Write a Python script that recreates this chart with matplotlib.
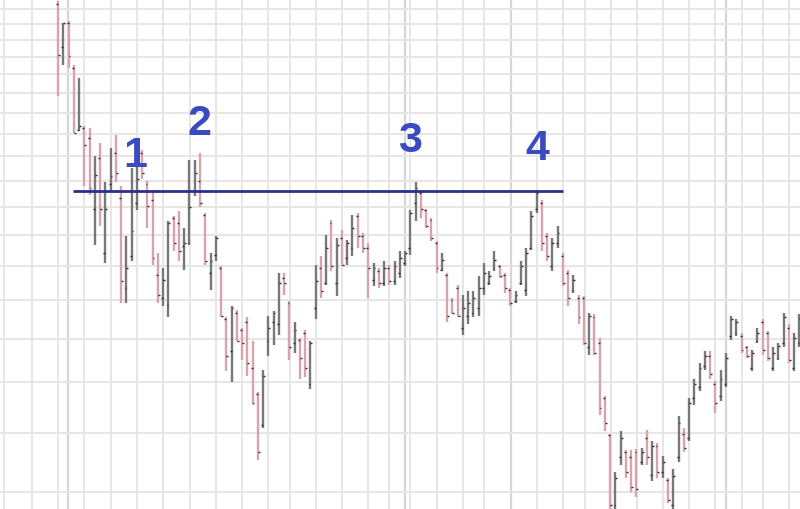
import matplotlib
matplotlib.use("Agg")
import matplotlib.pyplot as plt
from matplotlib.ticker import NullLocator

# ---- data (price, log scale) ----
highs = [22.55,21.06,21.19,18.53,17.79,15.38,15.29,14.00,14.59,12.96,14.36,14.95,12.77,10.97,13.50,13.62,14.27,13.00,12.62,10.42,
         9.94,11.48,11.66,11.83,11.24,13.83,13.83,14.14,11.76,10.42,10.97,10.00,8.54,8.85,8.74,8.28,8.54,7.95,6.80,7.26,
         8.59,8.72,9.79,9.79,8.97,8.41,8.03,8.23,7.95,10.03,10.32,11.00,11.52,10.90,11.17,10.84,11.69,11.76,11.07,10.74,
         10.10,9.94,10.16,10.03,10.16,10.48,10.48,11.86,12.96,12.58,11.93,11.59,10.81,10.42,9.79,9.06,9.44,9.15,9.26,9.26,
         9.71,10.10,9.85,10.48,10.03,9.79,9.35,9.26,10.16,10.58,11.83,12.58,12.23,11.07,10.90,11.31,10.42,9.88,9.74,9.15,
         9.12,8.67,8.62,8.03,6.71,5.98,5.31,6.02,5.68,5.68,5.70,5.73,6.04,5.85,5.81,5.59,5.22,5.36,6.31,6.08,
         6.67,7.07,7.43,7.71,7.71,7.02,7.26,7.67,8.59,8.49,8.15,7.83,7.74,8.28,8.49,8.20,7.79,7.90,8.67,8.36,
         8.15,8.62]
lows = [16.85,18.53,18.35,15.05,15.14,12.77,12.42,10.68,11.31,10.10,12.58,12.96,8.92,8.92,10.16,11.86,13.08,11.24,10.03,8.92,
        8.85,8.54,10.48,10.16,9.88,10.68,12.38,12.00,10.03,9.29,10.16,8.54,7.24,7.00,7.95,7.50,7.14,6.53,5.51,6.08,
        7.60,7.86,8.10,9.15,7.50,7.67,7.07,7.12,6.86,8.49,9.06,9.44,9.85,9.12,10.00,10.03,10.32,10.58,10.42,9.06,
        9.41,9.35,9.41,9.44,9.44,9.65,10.00,10.35,11.48,11.59,11.24,10.81,9.79,9.85,8.41,8.62,8.54,8.10,8.36,8.54,
        8.59,9.15,9.44,9.85,9.65,9.21,8.85,8.92,9.44,9.12,10.52,11.76,10.48,10.16,9.85,10.58,9.41,8.85,9.21,8.36,
        7.86,7.62,7.62,6.33,6.02,4.68,4.68,5.44,5.22,5.00,4.93,5.44,5.44,5.17,5.22,5.22,4.83,4.68,5.48,5.65,
        5.85,6.53,6.82,7.26,7.07,6.37,6.61,6.90,7.98,8.08,7.67,7.55,7.24,7.90,7.62,7.48,7.24,7.50,7.79,7.43,
        7.24,7.79]
opens = [22.34,19.56,21.06,18.35,15.19,15.29,14.82,11.93,13.92,10.42,12.88,14.14,12.31,9.35,10.32,12.12,14.14,12.88,12.23,9.74,
         9.06,8.87,11.59,11.41,10.64,10.74,12.58,13.00,11.69,9.79,10.35,9.94,8.49,7.71,8.67,8.23,8.41,7.31,6.76,6.14,
         7.95,8.41,8.36,9.65,8.92,7.90,7.98,8.15,6.96,8.80,9.94,9.50,11.41,9.50,10.90,10.26,10.58,11.66,10.97,10.58,
         9.59,9.85,9.50,9.94,9.56,9.79,10.10,10.58,12.12,12.50,11.86,11.52,10.74,9.88,9.74,9.00,9.35,8.28,8.59,8.67,
         8.80,9.35,9.50,9.94,10.00,9.74,9.29,8.97,9.50,9.29,10.58,11.93,12.12,10.97,10.00,10.74,10.32,9.79,9.29,9.06,
         9.06,7.79,8.54,7.90,6.67,5.95,4.80,5.56,5.65,5.56,5.65,5.48,5.90,5.26,5.76,5.31,5.19,4.80,5.56,5.98,
         5.90,6.67,6.90,7.36,7.60,6.96,6.71,6.96,8.08,8.15,8.08,7.79,7.31,7.95,8.41,8.15,7.31,7.55,7.90,8.28,
         7.31,7.90]
closes = [19.13,21.06,19.06,15.05,15.38,14.50,12.69,13.21,11.93,11.93,13.17,13.29,9.56,9.94,11.14,13.08,13.29,12.04,10.26,9.15,
          9.59,11.41,10.74,10.48,10.74,12.00,13.29,12.12,10.16,10.16,10.90,8.59,7.60,8.80,7.95,7.90,7.43,6.57,5.65,7.14,
          8.28,8.67,9.50,9.50,7.79,8.23,7.55,7.31,7.90,9.56,9.26,10.58,10.00,10.68,10.03,10.74,11.24,10.97,10.58,9.94,
          9.94,9.50,9.94,9.56,10.00,10.26,10.42,11.76,12.69,11.93,11.31,10.90,9.94,10.19,8.59,8.67,8.59,8.80,8.92,9.06,
          9.35,9.79,9.71,10.19,9.71,9.35,8.92,9.15,10.00,10.42,11.66,12.50,10.74,10.32,10.74,11.07,9.50,9.06,9.59,8.54,
          7.90,8.59,7.67,6.47,6.18,4.80,5.22,5.90,5.31,5.08,5.05,5.65,5.56,5.76,5.31,5.48,4.88,5.25,6.18,5.73,
          6.57,6.96,7.31,7.60,7.19,6.57,7.07,7.55,8.49,8.41,7.74,7.60,7.67,8.15,7.74,7.55,7.67,7.83,8.54,7.50,
          8.03,8.49]

# resistance line and pivot labels
resistance_level = 12.58
resistance_span = (2.85, 96.0)
pivot_labels = ["1", "2", "3", "4"]
pivot_x = [14.6, 27.0, 66.9, 91.1]
pivot_y = [14.04, 15.52, 14.73, 14.36]

# grid
price_grid = list(range(5, 23))
week_grid = [-10.3, -4.9, 0, 4.9, 10.1, 15.0, 20.0, 25.1, 30.0, 35.0, 39.9, 44.1, 49.0, 54.0, 58.9, 62.9,
             66.9, 72.0, 77.0, 81.0, 86.1, 91.1, 96.0, 100.2, 105.1, 110.1, 115.0, 120.0, 124.9, 130.0, 134.0, 139.0]
month_grid = [1.9, 66.0, 86.1, 127.0]

UP = "#787878"
DOWN = "#d7a3ad"
TICK = "#303030"

fig = plt.figure(figsize=(8.0, 5.1), dpi=100)
ax = fig.add_axes([0, 0, 1, 1])
ax.set_yscale("log")
ax.set_xlim(-11.03, 141.1)
ax.set_ylim(4.746, 22.685)

for xv in week_grid:
    ax.axvline(xv, color="#e6e6e6", lw=1.4, zorder=0)
for xv in month_grid:
    ax.axvline(xv, color="#d6d6d6", lw=1.6, zorder=0)
for yv in price_grid:
    ax.axhline(yv, color="#e6e6e6", lw=1.4, zorder=0)

for i, (o, h, l, c) in enumerate(zip(opens, highs, lows, closes)):
    col = UP if c >= o else DOWN
    ax.vlines(i, l, h, color=col, lw=1.7, zorder=2)
    ax.hlines(o, i - 0.35, i, color=TICK, lw=1.0, zorder=3)
    ax.hlines(c, i, i + 0.35, color=TICK, lw=1.0, zorder=3)

ax.hlines(resistance_level, resistance_span[0], resistance_span[1], color="#2b2f8c", lw=2.0, zorder=4)

for lab, xv, yv in zip(pivot_labels, pivot_x, pivot_y):
    ax.text(xv, yv, lab, color="#3a4bc0", fontsize=31, fontweight="bold",
            family="Liberation Sans", ha="center", va="center", zorder=5)

ax.xaxis.set_major_locator(NullLocator())
ax.yaxis.set_major_locator(NullLocator())
ax.yaxis.set_minor_locator(NullLocator())
for s in ax.spines.values():
    s.set_visible(False)

fig.savefig("out.png", dpi=100)
